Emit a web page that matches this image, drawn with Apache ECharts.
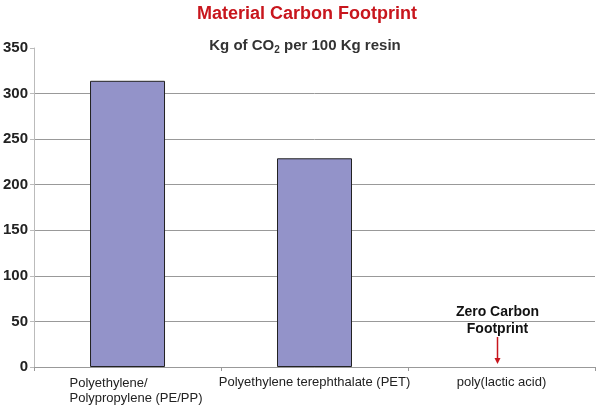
<!DOCTYPE html>
<html>
<head>
<meta charset="utf-8">
<script src="https://cdn.jsdelivr.net/npm/echarts@6/dist/echarts.min.js"></script>
<style>
  html, body { margin: 0; padding: 0; background: #fff; }
  #chart { width: 598px; height: 408px; }
</style>
</head>
<body>
<div id="chart"></div>
<script>
// data
var categories = ["Polyethylene/\nPolypropylene (PE/PP)", "Polyethylene terephthalate (PET)", "poly(lactic acid)"];
var co2Values = [314, 229, 0];
var yTicks = [0, 50, 100, 150, 200, 250, 300, 350];

var chart = echarts.init(document.getElementById("chart"));
var font = "Liberation Sans, Arial, sans-serif";

var option = {
  animation: false,
  title: [
    {
      text: "Material Carbon Footprint",
      left: 302,
      top: 0,
      textAlign: "center",
      textStyle: { color: "#C8161D", fontSize: 18, fontWeight: "bold", fontFamily: font },
    },
    {
      text: "{t|Kg of CO}{s|2}{t| per 100 Kg resin}",
      left: 300,
      top: 32,
      textAlign: "center",
      textStyle: {
        fontFamily: font,
        rich: {
          t: { fontSize: 15, fontWeight: "bold", color: "#333", fontFamily: font },
          s: { fontSize: 10, fontWeight: "bold", color: "#333", fontFamily: font, verticalAlign: "bottom", padding: [8, 0, 0, 0] },
        },
      },
    },
  ],
  grid: { left: 34, right: 3, top: 48, bottom: 41, containLabel: false },
  xAxis: {
    type: "category",
    data: categories,
    axisLine: { show: true, lineStyle: { color: "#999", width: 1 } },
    axisTick: { show: true, length: 4, lineStyle: { color: "#999" } },
    axisLabel: {
      interval: 0,
      margin: 9,
      color: "#222",
      fontSize: 13,
      fontFamily: font,
      formatter: function (value) {
        if (value.indexOf("\n") >= 0) {
          return value.split("\n").map(function (s) { return "{a|" + s + "}"; }).join("\n");
        }
        return value;
      },
      rich: {
        a: { width: 132, align: "left", padding: [0, 0, 0, 16], fontSize: 13, color: "#222", fontFamily: font, lineHeight: 15 },
      },
    },
  },
  yAxis: {
    type: "value",
    min: 0,
    max: 350,
    interval: 50,
    axisLine: { show: true, lineStyle: { color: "#bbb", width: 1 } },
    axisTick: { show: true, length: 4, lineStyle: { color: "#bbb" } },
    splitLine: { show: true, showMaxLine: false, lineStyle: { color: "#999", width: 1 } },
    axisLabel: {
      color: "#222",
      fontSize: 15,
      fontWeight: "bold",
      fontFamily: font,
      margin: 6,
      customValues: yTicks,
    },
  },
  series: [
    {
      type: "bar",
      // no outline for the zero bar
      data: co2Values.map(function (v) {
        return v === 0 ? { value: v, itemStyle: { borderWidth: 0 } } : v;
      }),
      barWidth: 75,
      itemStyle: { color: "#9393C9", borderColor: "#222", borderWidth: 1 },
    },
  ],
};
chart.setOption(option);

// annotation above the third category (zero value)
var p = chart.convertToPixel({ seriesIndex: 0 }, [categories[2], 0]);
var ax = p[0] - 4;
chart.setOption({
  graphic: [
    {
      type: "text",
      x: ax,
      y: p[1] - 63,
      style: {
        text: "Zero Carbon\nFootprint",
        align: "center",
        fill: "#111",
        font: "bold 14px " + font,
        lineHeight: 17,
      },
    },
    {
      type: "line",
      shape: { x1: ax, y1: p[1] - 30, x2: ax, y2: p[1] - 8 },
      style: { stroke: "#C8161D", lineWidth: 1.5 },
    },
    {
      type: "polygon",
      shape: { points: [[ax - 3, p[1] - 9], [ax + 3, p[1] - 9], [ax, p[1] - 3]] },
      style: { fill: "#C8161D" },
    },
  ],
});

window.onresize = function () {
  chart.resize();
};
</script>
</body>
</html>
